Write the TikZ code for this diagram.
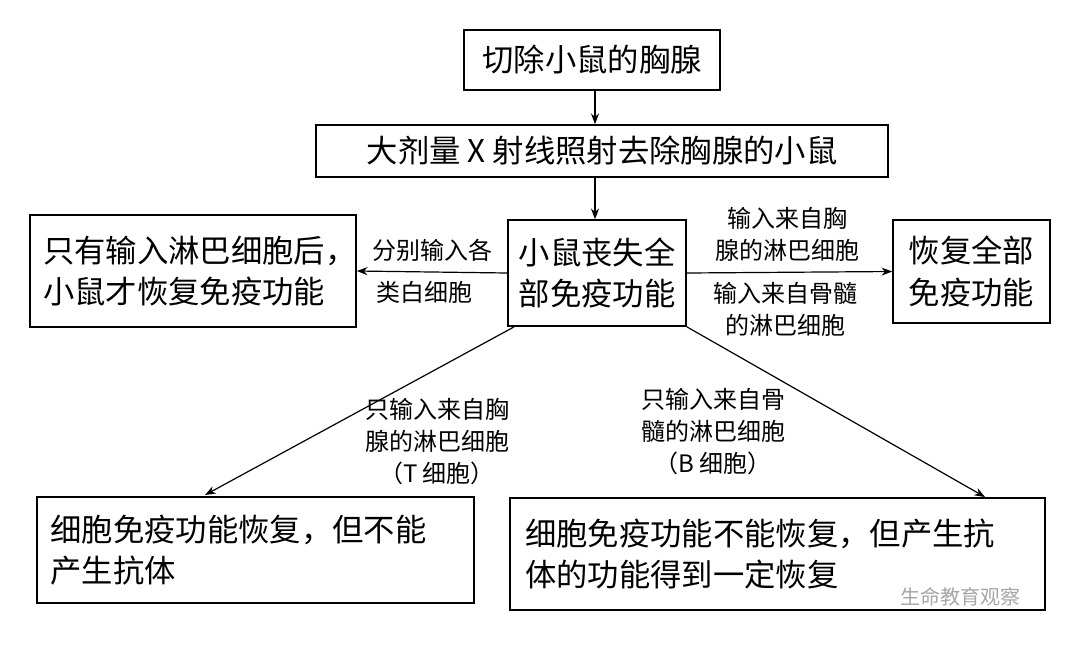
\documentclass[tikz,border=0pt]{standalone}
\usepackage{fontspec}
\setmainfont{Liberation Serif}
\newfontfamily\cjk{Noto Sans CJK SC}
\usetikzlibrary{arrows.meta}
\begin{document}
\begin{tikzpicture}[x=0.75pt,y=-0.75pt,
  bx/.style={draw,line width=1.2pt,inner sep=0pt},
  bt/.style={font=\cjk\fontsize{23.5}{31}\selectfont,align=center},
  lb/.style={font=\cjk\fontsize{18}{24}\selectfont,align=center},
  ar/.style={line width=0.9pt,-{Stealth[length=8pt,width=6pt]}}]
\useasboundingbox (0,0) rectangle (1080,647);
\fill[white] (0,0) rectangle (1080,647);
\node[bx,minimum width=256*0.75pt,minimum height=60*0.75pt,bt] (a) at (592,60) {切除小鼠的胸腺};
\node[bx,minimum width=572*0.75pt,minimum height=52*0.75pt,bt] (b) at (602,151) {大剂量 X 射线照射去除胸腺的小鼠};
\node[bx,minimum width=178*0.75pt,minimum height=106*0.75pt,bt] (c) at (597,273) {小鼠丧失全\\部免疫功能};
\node[bx,minimum width=326*0.75pt,minimum height=112*0.75pt,bt,align=left,text width=300*0.75pt] (l) at (193,271) {只有输入淋巴细胞后，\\小鼠才恢复免疫功能};
\node[bx,minimum width=157*0.75pt,minimum height=103*0.75pt,bt] (r) at (971.5,271.5) {恢复全部\\免疫功能};
\node[bx,minimum width=437*0.75pt,minimum height=106*0.75pt,bt,align=left,text width=410*0.75pt] (bl) at (255.5,550) {细胞免疫功能恢复，但不能\\产生抗体};
\node[bx,minimum width=535*0.75pt,minimum height=112*0.75pt,bt,align=left,text width=505*0.75pt] (br) at (777.5,554) {细胞免疫功能不能恢复，但产生抗\\体的功能得到一定恢复};
\coordinate (m1) at (595,0);
\draw[ar] (m1|-a.south) -- (m1|-b.north);
\draw[ar] (m1|-b.south) -- (m1|-c.north);
\draw[ar] (c.west) -- (l.east);
\draw[ar] (c.east) -- (r.west);
\draw[ar] (c.south west)++(7,0) -- (205,495);
\draw[ar] (c.south east) -- (985,497);
\node[lb] at (432,250) {分别输入各};
\node[lb] at (424,292) {类白细胞};
\node[lb] at (787,234) {输入来自胸\\腺的淋巴细胞};
\node[lb] at (785,309) {输入来自骨髓\\的淋巴细胞};
\node[lb] at (437,442) {只输入来自胸\\腺的淋巴细胞\\（T 细胞）};
\node[lb] at (713,432) {只输入来自骨\\髓的淋巴细胞\\（B 细胞）};
\node[font=\cjk\fontsize{15}{18}\selectfont,text=gray!70] at (960,597) {生命教育观察};
\end{tikzpicture}
\end{document}
